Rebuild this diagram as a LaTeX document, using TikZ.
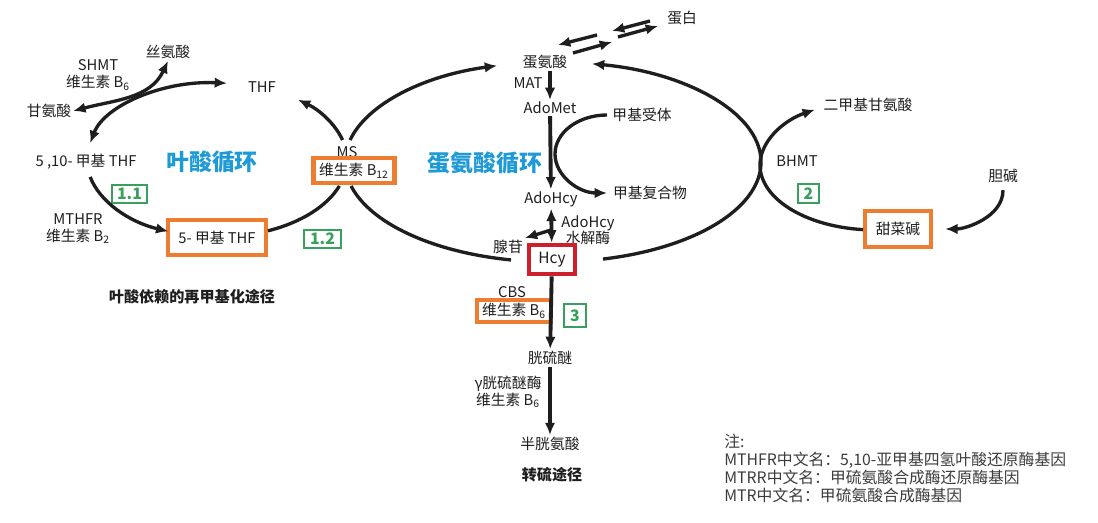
\documentclass[tikz,border=0pt]{standalone}
\usepackage{fontspec}
\setmainfont{Noto Sans CJK SC}
\usepackage{tikz}
\usetikzlibrary{arrows.meta, positioning}

\definecolor{boxorange}{RGB}{237,125,49}
\definecolor{boxgreen}{RGB}{56,160,92}
\definecolor{boxred}{RGB}{205,32,44}
\definecolor{cycblue}{RGB}{30,155,215}
\definecolor{txtblack}{RGB}{30,30,30}
\definecolor{notegray}{RGB}{60,60,60}

\begin{document}
\begin{tikzpicture}[x=0.02cm, y=-0.02cm,
    lbl/.style={font=\fontsize{8.4}{9.4}\selectfont, inner sep=1pt, align=center, text=txtblack},
    flow/.style={line width=1.9pt, draw=txtblack, -{Latex[length=7pt,width=6pt]}},
    both/.style={line width=1.9pt, draw=txtblack, {Latex[length=7pt,width=6pt]}-{Latex[length=7pt,width=6pt]}},
    ring/.style={line width=1.9pt, draw=txtblack},
    thick flow/.style={flow, line width=2.2pt},
    obox/.style={lbl, draw=boxorange, line width=2.3pt, fill=white},
    hbox/.style={lbl, draw=boxred, line width=2.8pt, fill=white, font=\fontsize{8.8}{10}\selectfont},
    gbox/.style={draw=boxgreen, line width=1.4pt, text=boxgreen, inner sep=0pt,
                 font=\fontsize{9}{10}\selectfont\bfseries},
    cyclename/.style={text=cycblue, font=\fontsize{13}{15}\selectfont\bfseries},
    route/.style={text=txtblack, font=\fontsize{8.6}{10}\selectfont\bfseries},
    note/.style={text=notegray, font=\fontsize{9}{10.2}\selectfont, align=left, inner sep=0pt}]

    % 背景
    \fill[white] (0,0) rectangle (1098,523);

    % 椭圆中心
    \coordinate (folc) at (217,160);
    \coordinate (metc) at (553,162);
    \coordinate (bhmtc) at (875,165);
    \coordinate (accc) at (607,154);

    % 叶酸循环
    \node[lbl] (ser) at (168,52) {丝氨酸};
    \node[lbl] (shmt) at (98,75) {SHMT\\维生素 B\textsubscript{6}};
    \node[lbl] (gly) at (49,111) {甘氨酸};
    \node[lbl] (thf) at (262,87) {THF};
    \node[lbl] (mthf10) at (86,162) {5 ,10- 甲基 THF};
    \node[lbl] (mthfr) at (78,229) {MTHFR\\维生素 B\textsubscript{2}};
    \node[obox, minimum width=1.96cm, minimum height=0.7cm] (mthf) at (217,237.5) {5- 甲基 THF};
    \node[cyclename] (folcyc) at (212,162) {叶酸循环};
    \node[gbox, minimum width=0.7cm, minimum height=0.36cm] (g11) at (129.5,194) {1.1};
    \node[gbox, minimum width=0.74cm, minimum height=0.36cm] (g12) at (322.5,239) {1.2};
    \node[route] (fdr) at (192,297) {叶酸依赖的再甲基化途径};

    % MS
    \node[lbl] (ms) at (347,152) {MS};
    \node[obox, minimum width=1.62cm, minimum height=0.5cm] (b12) at (354,170.5) {维生素 B\textsubscript{12}};

    % 蛋氨酸循环
    \node[cyclename] (metcyc) at (485,163) {蛋氨酸循环};
    \node[lbl] (prot) at (682,18) {蛋白};
    \node[lbl] (met) at (545,62) {蛋氨酸};
    \node[lbl] (mat) at (528,83) {MAT};
    \node[lbl] (adomet) at (550,108) {AdoMet};
    \node[lbl] (acc) at (642,115) {甲基受体};
    \node[lbl] (metx) at (650,193) {甲基复合物};
    \node[lbl] (adohcy) at (551,199) {AdoHcy};
    \node[lbl] (sahh) at (588,230) {AdoHcy\\水解酶};
    \node[lbl] (ado) at (508,247) {腺苷};
    \node[hbox, minimum width=0.92cm, minimum height=0.58cm] (hcy) at (552,259.5) {Hcy};

    % 转硫途径
    \node[lbl] (cbs) at (512,292) {CBS};
    \node[obox, minimum width=1.48cm, minimum height=0.44cm] (cbsb6) at (514,311) {维生素 B\textsubscript{6}};
    \node[gbox, minimum width=0.44cm, minimum height=0.46cm] (g3) at (575,315.5) {3};
    \node[lbl] (cysta) at (550,358) {胱硫醚};
    \node[lbl] (cgl) at (508,392) {γ胱硫醚酶\\维生素 B\textsubscript{6}};
    \node[lbl] (cys) at (550,444) {半胱氨酸};
    \node[route] (tsp) at (552,475) {转硫途径};

    % BHMT
    \node[lbl] (dmg) at (868,105) {二甲基甘氨酸};
    \node[lbl] (bhmt) at (797,161) {BHMT};
    \node[gbox, minimum width=0.42cm, minimum height=0.38cm] (g2) at (808.5,193.5) {2};
    \node[lbl] (chol) at (1003,176) {胆碱};
    \node[obox, minimum width=1.32cm, minimum height=0.72cm] (bet) at (898,229) {甜菜碱};

    % 叶酸循环的弧
    \draw[both] ([shift={(274.4:130 and 77)}]folc) arc[start angle=274.4, end angle=192.7, x radius=130, y radius=77];
    \draw[flow] ([shift={(167.3:130 and 77)}]folc) arc[start angle=167.3, end angle=112, x radius=130, y radius=77];
    \draw[ring] ([shift={(66.9:130 and 77)}]folc) arc[start angle=66.9, end angle=19.7, x radius=130, y radius=77];
    \draw[flow] ([shift={(-15:130 and 77)}]folc) arc[start angle=-15, end angle=-51.5, x radius=130, y radius=77];
    \draw[both] (gly.east) to[out=15, in=245] (ser.south);

    % 蛋氨酸循环的弧
    \draw[ring] ([shift={(101.65:208 and 100)}]metc) arc[start angle=101.65, end angle=166.1, x radius=208, y radius=100];
    \draw[flow] ([shift={(192.7:208 and 100)}]metc) arc[start angle=192.7, end angle=254.4, x radius=208, y radius=100];
    \draw[flow] ([shift={(76.1:208 and 100)}]metc) arc[start angle=76.1, end angle=-79.2, x radius=208, y radius=100];
    \draw[flow] ([shift={(270:52 and 39)}]accc) arc[start angle=270, end angle=90, x radius=52, y radius=39];

    % 中间的箭头
    \draw[thick flow] (met.south -| adomet) -- (adomet);
    \draw[thick flow] (adomet) -- (adohcy);
    \draw[both, line width=2.2pt] (adohcy) -- (hcy);
    \coordinate (br) at (551,230);
    \draw[flow] (br) -- (ado.north east);
    \draw[thick flow] (hcy) -- (cysta);
    \draw[thick flow] (cysta) -- (cys);

    % 蛋氨酸与蛋白
    \coordinate (p1a) at (558,45);  \coordinate (p1b) at (597,35);
    \coordinate (p2a) at (573,53);  \coordinate (p2b) at (612,42);
    \coordinate (p3a) at (612,31);  \coordinate (p3b) at (650,21);
    \coordinate (p4a) at (618,37);  \coordinate (p4b) at (658,26);
    \foreach \s/\t in {p1b/p1a, p2a/p2b, p3b/p3a, p4a/p4b}
        \draw[flow] (\s) -- (\t);

    % BHMT 的弧
    \draw[flow] ([shift={(96:115 and 65)}]bhmtc) arc[start angle=96, end angle=238.5, x radius=115, y radius=65];
    \draw[flow, shorten <=3pt, shorten >=7pt] (chol.south) to[out=-90, in=0] (bet.east);

    % 注
    \node[note, anchor=north west] (note) at (724,434)
        {注:\\MTHFR中文名：5,10-亚甲基四氢叶酸还原酶基因\\MTRR中文名：甲硫氨酸合成酶还原酶基因\\MTR中文名：甲硫氨酸合成酶基因};
\end{tikzpicture}
\end{document}
